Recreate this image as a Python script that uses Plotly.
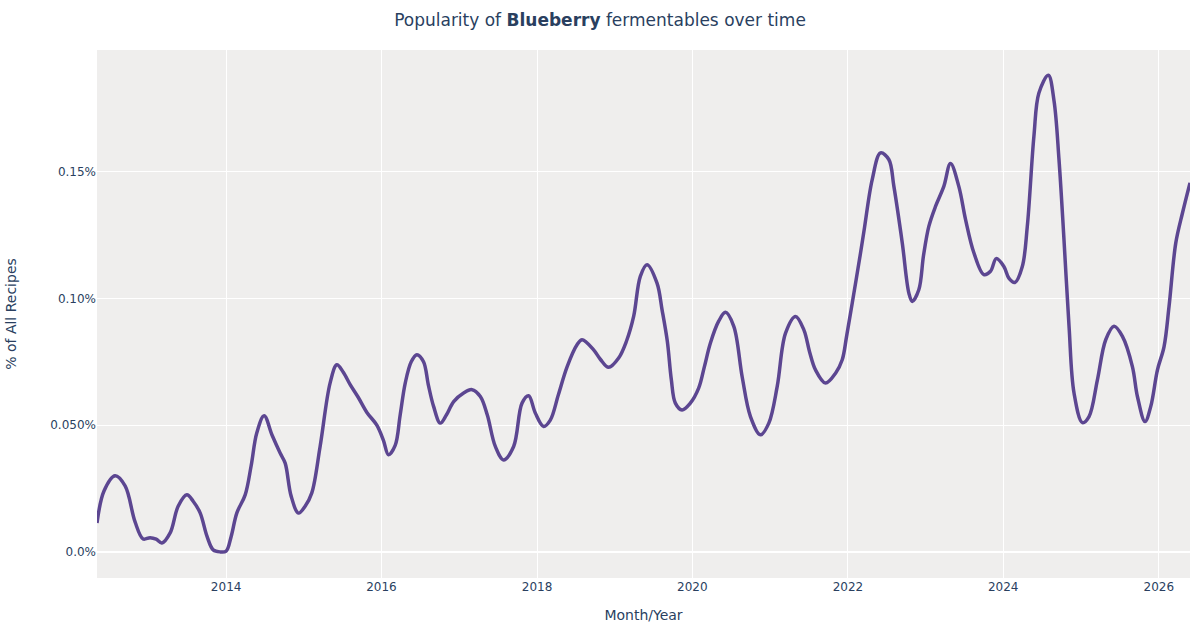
import plotly.graph_objects as go
import pandas as pd

# decimal-year positions of the sampled points
year_pos = [
    2012.339, 2012.429, 2012.571, 2012.700, 2012.828, 2012.931, 2013.021, 2013.099, 2013.172, 2013.279,
    2013.382, 2013.494, 2013.575, 2013.665, 2013.755, 2013.833, 2013.923, 2014.000, 2014.064, 2014.138,
    2014.245, 2014.322, 2014.395, 2014.489, 2014.592, 2014.695, 2014.760, 2014.837, 2014.931, 2015.017,
    2015.103, 2015.210, 2015.339, 2015.425, 2015.506, 2015.597, 2015.700, 2015.812, 2015.940, 2016.025,
    2016.090, 2016.176, 2016.240, 2016.305, 2016.382, 2016.455, 2016.540, 2016.601, 2016.669, 2016.755,
    2016.833, 2016.927, 2017.055, 2017.163, 2017.270, 2017.360, 2017.463, 2017.570, 2017.699, 2017.807,
    2017.892, 2017.978, 2018.085, 2018.171, 2018.275, 2018.387, 2018.515, 2018.580, 2018.729, 2018.815,
    2018.922, 2019.051, 2019.150, 2019.244, 2019.330, 2019.416, 2019.545, 2019.610, 2019.678, 2019.729,
    2019.781, 2019.867, 2019.974, 2020.081, 2020.154, 2020.232, 2020.338, 2020.425, 2020.532, 2020.640,
    2020.746, 2020.875, 2020.982, 2021.090, 2021.197, 2021.326, 2021.433, 2021.506, 2021.583, 2021.712,
    2021.841, 2021.927, 2021.983, 2022.056, 2022.163, 2022.214, 2022.313, 2022.420, 2022.527, 2022.592,
    2022.700, 2022.785, 2022.828, 2022.913, 2022.974, 2023.042, 2023.128, 2023.235, 2023.321, 2023.428,
    2023.515, 2023.622, 2023.750, 2023.836, 2023.910, 2024.008, 2024.072, 2024.149, 2024.245, 2024.309,
    2024.394, 2024.458, 2024.579, 2024.652, 2024.716, 2024.780, 2024.845, 2024.909, 2025.017, 2025.102,
    2025.210, 2025.317, 2025.424, 2025.532, 2025.661, 2025.725, 2025.823, 2025.897, 2025.983, 2026.068,
    2026.132, 2026.219, 2026.305, 2026.402,
]

# % of all recipes
pct_values = [
    0.0114, 0.0240, 0.0300, 0.0260, 0.0118, 0.0051, 0.0056, 0.0050, 0.0035, 0.0075,
    0.0180, 0.0225, 0.0200, 0.0154, 0.0060, 0.0008, 0.0000, 0.0003, 0.0060, 0.0154,
    0.0225, 0.0340, 0.0470, 0.0537, 0.0460, 0.0390, 0.0350, 0.0220, 0.0153, 0.0180,
    0.0233, 0.0416, 0.0667, 0.0738, 0.0710, 0.0660, 0.0610, 0.0550, 0.0500, 0.0440,
    0.0383, 0.0420, 0.0540, 0.0666, 0.0750, 0.0778, 0.0750, 0.0660, 0.0574, 0.0508,
    0.0540, 0.0593, 0.0627, 0.0640, 0.0613, 0.0540, 0.0416, 0.0363, 0.0416, 0.0587,
    0.0616, 0.0548, 0.0495, 0.0520, 0.0620, 0.0730, 0.0817, 0.0837, 0.0797, 0.0760,
    0.0728, 0.0765, 0.0830, 0.0929, 0.1087, 0.1133, 0.1060, 0.0955, 0.0830, 0.0680,
    0.0587, 0.0560, 0.0587, 0.0646, 0.0730, 0.0824, 0.0910, 0.0945, 0.0890, 0.0690,
    0.0534, 0.0462, 0.0508, 0.0653, 0.0863, 0.0929, 0.0876, 0.0790, 0.0718, 0.0666,
    0.0705, 0.0758, 0.0850, 0.0982, 0.1180, 0.1280, 0.1469, 0.1574, 0.1548, 0.1442,
    0.1219, 0.1021, 0.0988, 0.1034, 0.1170, 0.1284, 0.1363, 0.1442, 0.1532, 0.1442,
    0.1311, 0.1180, 0.1094, 0.1107, 0.1157, 0.1126, 0.1080, 0.1063, 0.1126, 0.1284,
    0.1640, 0.1810, 0.1880, 0.1780, 0.1548, 0.1232, 0.0890, 0.0627, 0.0510, 0.0534,
    0.0679, 0.0837, 0.0890, 0.0850, 0.0730, 0.0613, 0.0514, 0.0574, 0.0718, 0.0810,
    0.0968, 0.1219, 0.1337, 0.1456,
]

y_ticks = [0, 0.05, 0.10, 0.15]
y_tick_labels = ["0.0%", "0.050%", "0.10%", "0.15%"]


def to_date(y):
    year = int(y)
    start = pd.Timestamp(year=year, month=1, day=1)
    end = pd.Timestamp(year=year + 1, month=1, day=1)
    return start + (end - start) * (y - year)


dates = [to_date(y) for y in year_pos]

fig = go.Figure(
    go.Scatter(
        x=dates,
        y=pct_values,
        mode="lines",
        line=dict(color="#5c4691", width=3.5, shape="spline"),
        showlegend=False,
    )
)

fig.update_layout(
    width=1200,
    height=630,
    margin=dict(l=97, r=10, t=50, b=52),
    paper_bgcolor="white",
    plot_bgcolor="#efeeed",
    font=dict(family="DejaVu Sans", size=12, color="#2a3f5f"),
    title=dict(
        text="Popularity of <b>Blueberry</b> fermentables over time",
        x=0.5,
        xanchor="center",
        y=0.968,
        yanchor="middle",
        font=dict(size=17),
    ),
)
fig.update_xaxes(
    title=dict(text="Month/Year", font=dict(size=14), standoff=17),
    showgrid=True,
    gridcolor="white",
    gridwidth=1,
    zeroline=False,
    ticks="",
    dtick="M24",
    tickformat="%Y",
)
fig.update_yaxes(
    title=dict(text="% of All Recipes", font=dict(size=14), standoff=30),
    range=[-0.0103, 0.198],
    tickmode="array",
    tickvals=y_ticks,
    ticktext=y_tick_labels,
    showgrid=True,
    gridcolor="white",
    zeroline=True,
    zerolinecolor="white",
    zerolinewidth=2,
)

fig.write_html("out.html")
